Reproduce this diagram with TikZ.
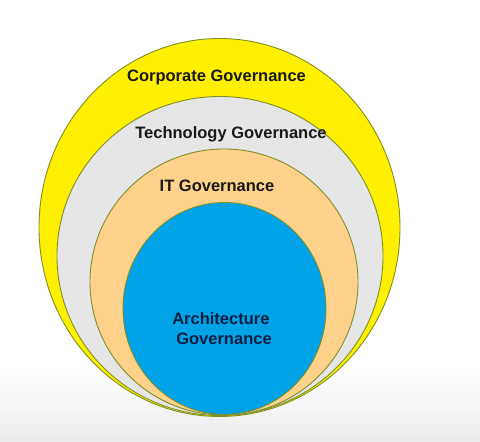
\documentclass[tikz,border=0pt]{standalone}
\usepackage{fontspec}
\setmainfont{Liberation Sans}
\begin{document}
\begin{tikzpicture}[x=1pt,y=-1pt,
  ring/.style={draw=ringline, line width=0.9pt},
  lbl/.style={font=\fontsize{16.5}{20}\selectfont\bfseries, text=black!90, inner sep=0pt}]
\definecolor{ringline}{HTML}{7F8F25}
\definecolor{corpY}{HTML}{FFEF00}
\definecolor{techG}{HTML}{E6E6E6}
\definecolor{itO}{HTML}{FFD28C}
\definecolor{archB}{HTML}{00A2E8}
\definecolor{archT}{HTML}{0B1E40}
\useasboundingbox (0,0) rectangle (480,442);
\fill[white] (0,0) rectangle (480,442);
\shade[top color=white, bottom color=black!8] (0,372) rectangle (480,442);
\draw[ring, fill=corpY] (219.5,227.5) ellipse [x radius=180.5pt, y radius=189pt];
\draw[ring, fill=techG] (220,256) ellipse [x radius=163pt, y radius=159.5pt];
\draw[ring, fill=itO] (224,282) ellipse [x radius=134pt, y radius=133pt];
\draw[ring, fill=archB] (224.5,308.5) ellipse [x radius=101.5pt, y radius=106pt];
\node[lbl] (corp) at (216.5,77) {Corporate Governance};
\node[lbl] (tech) at (231,134) {Technology Governance};
\node[lbl] (it) at (217,186) {IT Governance};
\node[lbl, text=archT, align=left] (arch) at (222,329) {Architecture\\\hspace*{4pt}Governance};
\end{tikzpicture}
\end{document}
